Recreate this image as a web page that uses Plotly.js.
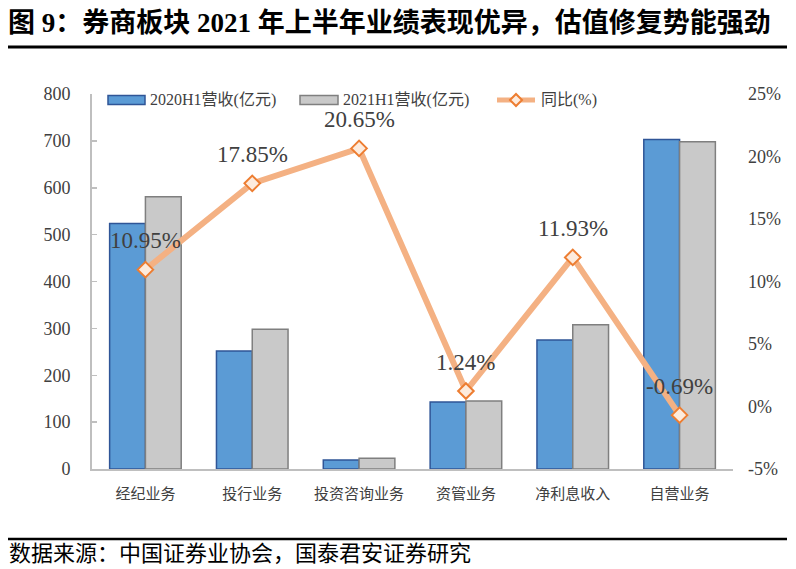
<!DOCTYPE html>
<html>
<head>
<meta charset="utf-8">
<script src="https://cdn.plot.ly/plotly-3.0.1.min.js"></script>
<style>
  html, body { margin: 0; padding: 0; background: #fff; }
  #chart { width: 796px; height: 569px; }
</style>
</head>
<body>
<div id="chart"></div>
<script>
// Business lines of the brokerage sector
const categories = ['经纪业务', '投行业务', '投资咨询业务', '资管业务', '净利息收入', '自营业务'];
// Revenue, 100 million yuan
const revenue2020H1 = [524, 252, 19, 143, 275, 703];
const revenue2021H1 = [581, 298, 23, 145, 308, 698];
// Year-on-year change, %
const yoyGrowth = [10.95, 17.85, 20.65, 1.24, 11.93, -0.69];

const seriesNames = ['2020H1营收(亿元)', '2021H1营收(亿元)', '同比(%)'];
const leftTicks = [0, 100, 200, 300, 400, 500, 600, 700, 800];
const rightTicks = [-5, 0, 5, 10, 15, 20, 25];

const titleText = '图 9：券商板块 2021 年上半年业绩表现优异，估值修复势能强劲';
const sourceText = '数据来源：中国证券业协会，国泰君安证券研究';

const FONT = '"Liberation Serif", "Times New Roman", "Noto Sans CJK SC", serif';
const TEXT = '#404040';

// plot area in pixels
const M = { l: 92, r: 63, t: 94, b: 100 };
const W = 796, H = 569;
const PW = W - M.l - M.r, PH = H - M.t - M.b;
const px = x => (x - M.l) / PW;
const py = y => (H - M.b - y) / PH;

const blue = '#5B9BD5', blueEdge = '#2F5597';
const grey = '#C9C9C9', greyEdge = '#7F7F7F';
const orange = '#F4B183', orangeEdge = '#ED7D31';

const traces = [
  {
    type: 'bar', name: seriesNames[0], x: categories, y: revenue2020H1,
    marker: { color: blue, line: { color: blueEdge, width: 1.5 } },
    hoverinfo: 'skip'
  },
  {
    type: 'bar', name: seriesNames[1], x: categories, y: revenue2021H1,
    marker: { color: grey, line: { color: greyEdge, width: 1.5 } },
    hoverinfo: 'skip'
  },
  {
    type: 'scatter', mode: 'lines+markers', name: seriesNames[2],
    x: categories, y: yoyGrowth, yaxis: 'y2',
    line: { color: orange, width: 6 },
    marker: { symbol: 'diamond', size: 12, color: '#FDEBDD', line: { color: orangeEdge, width: 2 } },
    hoverinfo: 'skip'
  }
];

// value labels above the growth points
const annotations = yoyGrowth.map((v, i) => ({
  x: categories[i], y: v, xref: 'x', yref: 'y2',
  text: v.toFixed(2) + '%', showarrow: false, yshift: 29,
  font: { family: FONT, size: 23, color: TEXT }
}));

// title and source lines
annotations.push({
  xref: 'paper', yref: 'paper', x: px(6), y: py(23), xanchor: 'left', yanchor: 'middle',
  text: '<b>' + titleText + '</b>', showarrow: false,
  font: { family: FONT, size: 27, color: '#000' }
});
annotations.push({
  xref: 'paper', yref: 'paper', x: px(7), y: py(553), xanchor: 'left', yanchor: 'middle',
  text: sourceText, showarrow: false,
  font: { family: FONT, size: 22, color: '#000' }
});

// legend entries
const legendY = 100;
const legendItems = [
  { x0: 108, x1: 145, tx: 148, kind: 'box', fill: blue, edge: blueEdge, label: seriesNames[0] },
  { x0: 300, x1: 338, tx: 341, kind: 'box', fill: grey, edge: greyEdge, label: seriesNames[1] },
  { x0: 497, x1: 535, tx: 539, kind: 'line', label: seriesNames[2] }
];

const shapes = [
  { type: 'line', xref: 'paper', yref: 'paper', x0: px(8), x1: px(787), y0: py(47), y1: py(47),
    line: { color: '#000', width: 3 } },
  { type: 'line', xref: 'paper', yref: 'paper', x0: px(8), x1: px(787), y0: py(539), y1: py(539),
    line: { color: '#000', width: 2.5 } }
];

legendItems.forEach(it => {
  if (it.kind === 'box') {
    shapes.push({ type: 'rect', xref: 'paper', yref: 'paper',
      x0: px(it.x0), x1: px(it.x1), y0: py(legendY + 4.5), y1: py(legendY - 4.5),
      fillcolor: it.fill, line: { color: it.edge, width: 1.5 } });
  } else {
    shapes.push({ type: 'line', xref: 'paper', yref: 'paper',
      x0: px(it.x0), x1: px(it.x1), y0: py(legendY), y1: py(legendY),
      line: { color: orange, width: 5 } });
    const cx = (it.x0 + it.x1) / 2, r = 6;
    const path = 'M' + px(cx - r) + ',' + py(legendY) +
                 ' L' + px(cx) + ',' + py(legendY - r) +
                 ' L' + px(cx + r) + ',' + py(legendY) +
                 ' L' + px(cx) + ',' + py(legendY + r) + ' Z';
    shapes.push({ type: 'path', xref: 'paper', yref: 'paper', path: path,
      fillcolor: '#FDEBDD', line: { color: orangeEdge, width: 2 } });
  }
  annotations.push({
    xref: 'paper', yref: 'paper', x: px(it.tx), y: py(legendY), xanchor: 'left', yanchor: 'middle',
    text: it.label, showarrow: false, font: { family: FONT, size: 16, color: TEXT }
  });
});

const layout = {
  width: W, height: H,
  margin: M,
  paper_bgcolor: '#fff', plot_bgcolor: '#fff',
  showlegend: false,
  barmode: 'group', bargap: 0.33, bargroupgap: 0,
  font: { family: FONT, color: TEXT },
  xaxis: {
    showgrid: false, zeroline: false, showline: true, linecolor: '#BFBFBF', linewidth: 2,
    ticks: '', tickfont: { family: FONT, size: 15, color: TEXT }, ticklabelstandoff: 10
  },
  yaxis: {
    range: [0, 800], tickvals: leftTicks, showgrid: false, zeroline: false,
    showline: true, linecolor: '#BFBFBF', linewidth: 2,
    ticks: 'inside', ticklen: 5, tickcolor: '#BFBFBF', tickwidth: 1.5,
    tickfont: { family: FONT, size: 18, color: TEXT }, ticklabelstandoff: 16
  },
  yaxis2: {
    overlaying: 'y', side: 'right', range: [-5, 25], tickvals: rightTicks,
    ticktext: rightTicks.map(v => v + '%'),
    showgrid: false, zeroline: false, showline: false, ticks: '',
    tickfont: { family: FONT, size: 18, color: TEXT }, ticklabelstandoff: 14
  },
  annotations: annotations,
  shapes: shapes
};

Plotly.newPlot('chart', traces, layout, { staticPlot: true, displayModeBar: false });
</script>
</body>
</html>
